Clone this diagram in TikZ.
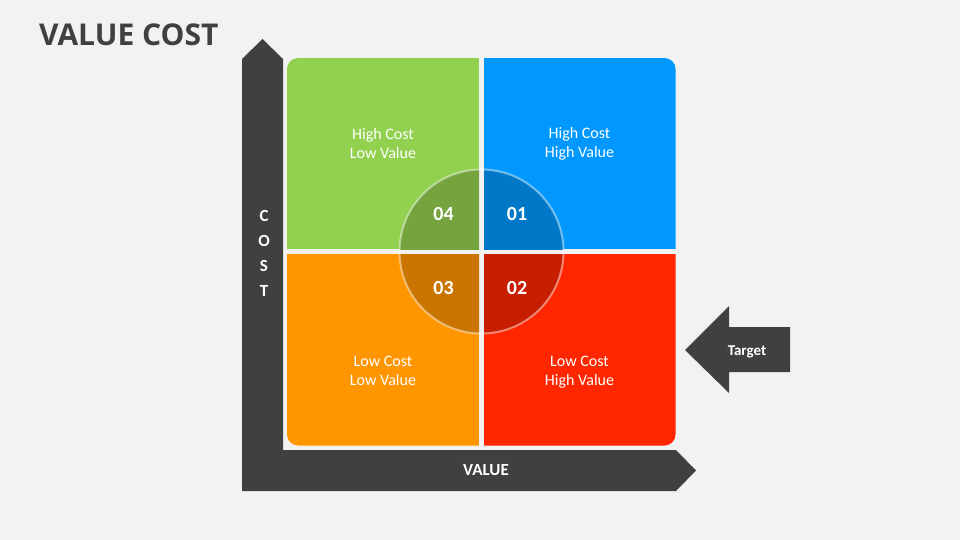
\documentclass[tikz,border=0pt]{standalone}
\usepackage{fontspec}
\setmainfont{Carlito}
\newfontfamily\titlefont{Open Sans}
\definecolor{bgc}{HTML}{F2F2F2}
\definecolor{darkc}{HTML}{404040}
\definecolor{qgreen}{HTML}{92D050}
\definecolor{qblue}{HTML}{0098FE}
\definecolor{qorange}{HTML}{FF9600}
\definecolor{qred}{HTML}{FF2600}
\definecolor{dgreen}{HTML}{75A43F}
\definecolor{dblue}{HTML}{0078C8}
\definecolor{dorange}{HTML}{C97500}
\definecolor{dred}{HTML}{C81E00}
\begin{document}
\begin{tikzpicture}[x=1pt,y=-1pt,
  lbl/.style={text=white,font=\fontsize{16}{19}\selectfont,align=center,inner sep=0pt},
  num/.style={text=white,font=\bfseries\fontsize{20}{24}\selectfont,inner sep=0pt},
  axislbl/.style={text=white,font=\bfseries\fontsize{17}{25}\selectfont,align=center,inner sep=0pt},
  shapefill/.style={fill=darkc}]
\fill[bgc] (0,0) rectangle (960,540);
\useasboundingbox (0,0) rectangle (960,540);

% title
\node[anchor=base west,inner sep=0pt,text=darkc,font=\titlefont\bfseries\fontsize{30}{36}\selectfont] (title) at (39,45.5) {VALUE COST};

% axes
\fill[shapefill] (242,491) -- (242,59) -- (262.5,39) -- (283,59) -- (283,450) -- (676,450) -- (696,470.5) -- (676,491) -- cycle;

% quadrants
\begin{scope}
\clip[rounded corners=11pt] (287,58) rectangle (675.5,445.5);
\fill[qgreen] (287,58) rectangle (479,249);
\fill[qblue] (484,58) rectangle (675.5,249);
\fill[qorange] (287,254) rectangle (479,445.5);
\fill[qred] (484,254) rectangle (675.5,445.5);
\begin{scope}
\clip (287,58) rectangle (479,249);
\fill[dgreen] (481.5,251.5) circle[radius=82];
\end{scope}
\begin{scope}
\clip (484,58) rectangle (675.5,249);
\fill[dblue] (481.5,251.5) circle[radius=82];
\end{scope}
\begin{scope}
\clip (287,254) rectangle (479,445.5);
\fill[dorange] (481.5,251.5) circle[radius=82];
\end{scope}
\begin{scope}
\clip (484,254) rectangle (675.5,445.5);
\fill[dred] (481.5,251.5) circle[radius=82];
\end{scope}
\end{scope}
\draw[white,opacity=0.45,line width=2pt] (481.5,251.5) circle[radius=82];

% quadrant labels
\node[lbl] (q4) at (383,143.5) {High Cost\\Low Value};
\node[lbl] (q1) at (579.5,143.5) {High Cost\\High Value};
\node[lbl] (q3) at (383,370.5) {Low Cost\\Low Value};
\node[lbl] (q2) at (579.5,372) {Low Cost\\High Value};

% numbers
\node[num] (n4) at (443.5,214.5) {04};
\node[num] (n1) at (517,214.5) {01};
\node[num] (n3) at (443.5,288) {03};
\node[num] (n2) at (517,288) {02};

% axis labels
\node[axislbl] (cost) at (264,253) {C\\O\\S\\T};
\node[axislbl] (value) at (486,470.5) {VALUE};

% target arrow
\fill[shapefill] (685,350) -- (729,306) -- (729,327) -- (790,327) -- (790,372) -- (729,372) -- (729,393) -- cycle;
\node[text=white,font=\bfseries\fontsize{15}{18}\selectfont,inner sep=0pt] (target) at (747,351.5) {Target};
\end{tikzpicture}
\end{document}
